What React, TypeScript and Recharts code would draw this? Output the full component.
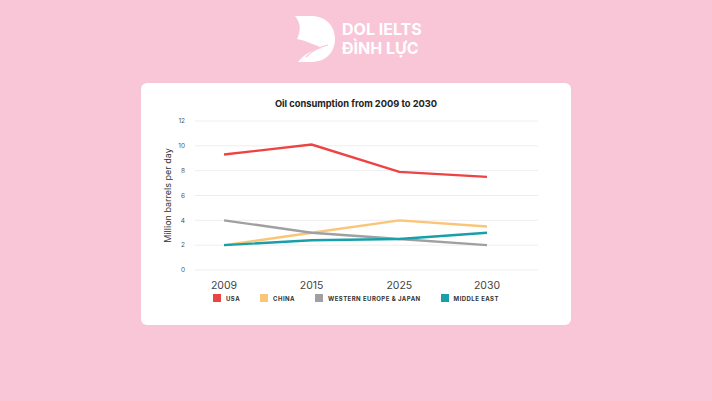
import { CartesianGrid, Line, LineChart, XAxis, YAxis } from "recharts"

const years = ["2009", "2015", "2025", "2030"]
const usa = [9.3, 10.1, 7.9, 7.5]
const china = [2, 3, 4, 3.5]
const westernEuropeJapan = [4, 3, 2.5, 2]
const middleEast = [2, 2.4, 2.5, 3]
const yTicks = [0, 2, 4, 6, 8, 10, 12]

const series = [
  { key: "usa", name: "USA", color: "#ee4343" },
  { key: "china", name: "CHINA", color: "#fbc576" },
  { key: "we", name: "WESTERN EUROPE & JAPAN", color: "#a0a0a0" },
  { key: "me", name: "MIDDLE EAST", color: "#17a0a8" },
]

const data = years.map((year, i) => ({
  year,
  usa: usa[i],
  china: china[i],
  we: westernEuropeJapan[i],
  me: middleEast[i],
}))

function LegendRow() {
  return (
    <div
      style={{
        position: "absolute",
        left: 72,
        top: 211,
        display: "flex",
        alignItems: "center",
        whiteSpace: "nowrap",
      }}
    >
      {series.map((s) => (
        <div
          key={s.key}
          style={{ display: "flex", alignItems: "center", marginRight: 20 }}
        >
          <div style={{ width: 8, height: 8, background: s.color, marginRight: 5 }} />
          <span
            style={{
              fontSize: 6,
              fontWeight: 700,
              letterSpacing: 0.45,
              color: "#333",
            }}
          >
            {s.name}
          </span>
        </div>
      ))}
    </div>
  )
}

function Logo() {
  return (
    <div style={{ position: "absolute", left: 295, top: 16, display: "flex", alignItems: "center" }}>
      <svg width={40} height={46} viewBox="0 0 40 46">
        <path
          d="M0 0 L16 0 C31 0 40 10 40 23 C40 37 30 46 16 46 L3 46 C9 38 18 34 27 32 C20 29 12 25 2 23 C6 15 6 7 0 0 Z"
          fill="#ffffff"
        />
        <path d="M11 41 C17 35 24 31 33 29" stroke="#f8c6d7" strokeWidth={1.2} fill="none" />
      </svg>
      <div
        style={{
          marginLeft: 7,
          color: "#ffffff",
          fontFamily: "Inter, sans-serif",
          fontWeight: 700,
          fontSize: 16,
          lineHeight: "19px",
        }}
      >
        <div>DOL IELTS</div>
        <div>ĐÌNH LỰC</div>
      </div>
    </div>
  )
}

export default function App() {
  return (
    <div
      style={{
        position: "fixed",
        left: 0,
        top: 0,
        width: 712,
        height: 401,
        background: "#f8c6d7",
        fontFamily: "Inter, sans-serif",
      }}
    >
      <Logo />
      <div
        style={{
          position: "absolute",
          left: 141,
          top: 83,
          width: 430,
          height: 242,
          background: "#ffffff",
          borderRadius: 6,
        }}
      >
        <div
          style={{
            position: "absolute",
            top: 15,
            width: "100%",
            textAlign: "center",
            fontSize: 9.3,
            fontWeight: 700,
            color: "#222",
          }}
        >
          Oil consumption from 2009 to 2030
        </div>
        <LineChart
          width={430}
          height={242}
          data={data}
          margin={{ top: 38, right: 33, bottom: 27, left: 14 }}
        >
          <CartesianGrid horizontal vertical={false} stroke="#eeeef2" />
          <XAxis
            dataKey="year"
            axisLine={false}
            tickLine={false}
            padding={{ left: 29, right: 51 }}
            tick={{ fontSize: 10.5, fill: "#444" }}
            tickMargin={6}
            height={28}
          />
          <YAxis
            domain={[0, 12]}
            ticks={yTicks}
            axisLine={false}
            tickLine={false}
            width={40}
            tickMargin={4}
            tick={{ fontSize: 6.5, fill: "#555" }}
            label={{
              value: "Million barrels per day",
              angle: -90,
              position: "insideLeft",
              offset: 13,
              style: { fontSize: 9, fill: "#333", textAnchor: "middle" },
            }}
          />
          {series.map((s) => (
            <Line
              key={s.key}
              type="linear"
              dataKey={s.key}
              name={s.name}
              stroke={s.color}
              strokeWidth={2.4}
              dot={false}
              activeDot={false}
              isAnimationActive={false}
            />
          ))}
        </LineChart>
        <LegendRow />
      </div>
    </div>
  )
}
